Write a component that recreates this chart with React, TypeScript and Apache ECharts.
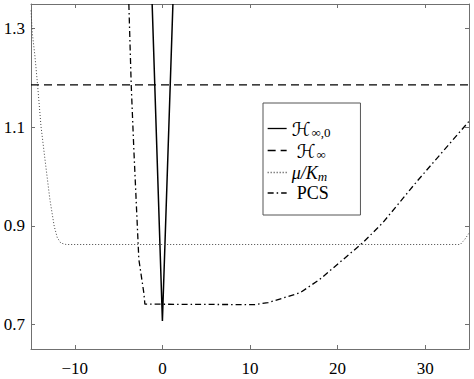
import React, { useEffect, useRef } from 'react';
import * as echarts from 'echarts';

// Axis ticks
const xTicks = [-10, 0, 10, 20, 30];
const yTicks = [0.7, 0.9, 1.1, 1.3];

// Series names
const seriesNames = ['ℋ∞,0', 'ℋ∞', 'μ/Km', 'PCS'];

// ℋ∞,0 (solid V)
const hInf0: number[][] = [[-1.17, 1.35], [0, 0.707], [1.2, 1.35]];
// ℋ∞ (dashed, constant)
const hInf: number[][] = [[-15, 1.186], [35, 1.186]];
// μ/Km (dotted)
const muKm: number[][] = [
  [-15, 1.337], [-14.85, 1.291], [-14.55, 1.244], [-14.25, 1.186], [-13.86, 1.102],
  [-13.4, 1.034], [-12.84, 0.953], [-12.35, 0.899], [-12.0, 0.876], [-11.6, 0.865],
  [-11.0, 0.862], [34.0, 0.862], [34.5, 0.872], [35, 0.885],
];
// PCS (dash-dot)
const pcs: number[][] = [
  [-3.83, 1.35], [-3.56, 1.186], [-3.26, 1.055], [-2.69, 0.832], [-2.12, 0.764],
  [-2.0, 0.741], [10.5, 0.74], [12.05, 0.744], [15.7, 0.764], [17.95, 0.791],
  [20.2, 0.825], [22.9, 0.866], [25.15, 0.906], [29.1, 0.991], [35, 1.112],
];

const AXIS_GRAY = '#707070';
const SERIF = '"Liberation Serif", "Times New Roman", serif';
const SCRIPT = '"DejaVu Serif", "DejaVu Sans", serif';

export default function App() {
  const ref = useRef<HTMLDivElement>(null);
  useEffect(() => {
    const chart = echarts.init(ref.current!, null, { renderer: 'svg' });
    const axisCommon = {
      axisLine: { show: true, onZero: false, lineStyle: { color: AXIS_GRAY, width: 1 } },
      splitLine: { show: false },
    };
    chart.setOption({
      animation: false,
      backgroundColor: '#fff',
      grid: { left: 31, right: 5, top: 4, bottom: 30 },
      xAxis: [
        {
          type: 'value', min: -15, max: 35, position: 'bottom',
          ...axisCommon,
          axisTick: { show: true, inside: true, length: 4, customValues: xTicks, lineStyle: { color: AXIS_GRAY } },
          axisLabel: {
            customValues: xTicks, margin: 11, color: '#000', fontSize: 17, fontFamily: SERIF,
            formatter: (v: number) => (v < 0 ? '\u2212' + Math.abs(v) : String(v)),
          },
        },
        {
          type: 'value', min: -15, max: 35, position: 'top',
          ...axisCommon,
          axisTick: { show: true, inside: true, length: 4, customValues: xTicks, lineStyle: { color: AXIS_GRAY } },
          axisLabel: { show: false },
        },
      ],
      yAxis: [
        {
          type: 'value', min: 0.65, max: 1.35, position: 'left',
          ...axisCommon,
          axisTick: { show: true, inside: true, length: 4, customValues: yTicks, lineStyle: { color: AXIS_GRAY } },
          axisLabel: {
            customValues: yTicks, margin: 6, color: '#000', fontSize: 17, fontFamily: SERIF,
            formatter: (v: number) => v.toFixed(1),
          },
        },
        {
          type: 'value', min: 0.65, max: 1.35, position: 'right',
          ...axisCommon,
          axisTick: { show: true, inside: true, length: 4, customValues: yTicks, lineStyle: { color: AXIS_GRAY } },
          axisLabel: { show: false },
        },
      ],
      legend: {
        orient: 'vertical',
        left: 263,
        top: 103,
        data: seriesNames,
        selectedMode: false,
        backgroundColor: '#fff',
        borderColor: '#555',
        borderWidth: 1,
        borderRadius: 0,
        padding: [15, 30, 13, 4],
        itemWidth: 19,
        itemHeight: 16,
        itemGap: 1,
        lineStyle: { width: 1.3 },
        itemStyle: { opacity: 0 },
        textStyle: {
          color: '#000',
          fontFamily: SERIF,
          fontSize: 18,
          lineHeight: 16,
          rich: {
            h: { fontSize: 19, lineHeight: 16, fontFamily: SCRIPT, fontStyle: 'italic', color: '#000' },
            h2: { fontSize: 19, lineHeight: 16, fontFamily: SCRIPT, fontStyle: 'italic', color: '#000', padding: [0, 0, 0, 5] },
            s: { fontSize: 13, lineHeight: 8, padding: [8, 0, 0, 1], fontFamily: SERIF, color: '#000' },
            si: { fontSize: 13, lineHeight: 8, padding: [8, 0, 0, 0], fontFamily: SERIF, fontStyle: 'italic', color: '#000' },
            m: { fontSize: 18, lineHeight: 16, fontFamily: SERIF, fontStyle: 'italic', color: '#000' },
            p: { fontSize: 18, lineHeight: 16, fontFamily: SERIF, color: '#000', padding: [0, 0, 0, 5] },
          },
        },
        formatter: (name: string) => {
          if (name === 'ℋ∞,0') return '{h|ℋ}{s|∞,0}';
          if (name === 'ℋ∞') return '{h2|ℋ}{s|∞}';
          if (name === 'μ/Km') return '{m|μ/K}{si|m}';
          return '{p|PCS}';
        },
      },
      series: [
        {
          name: seriesNames[0], type: 'line', data: hInf0, symbol: 'none', clip: true,
          lineStyle: { color: '#000', width: 1.5, type: 'solid' }, itemStyle: { color: '#000' },
        },
        {
          name: seriesNames[1], type: 'line', data: hInf, symbol: 'none', clip: true,
          lineStyle: { color: '#000', width: 1.3, type: [8, 5] }, itemStyle: { color: '#000' },
        },
        {
          name: seriesNames[2], type: 'line', data: muKm, symbol: 'none', clip: true,
          lineStyle: { color: '#444', width: 1, type: [1, 2] }, itemStyle: { color: '#444' },
        },
        {
          name: seriesNames[3], type: 'line', data: pcs, symbol: 'none', clip: true,
          lineStyle: { color: '#000', width: 1.3, type: [6, 3, 1.5, 3] }, itemStyle: { color: '#000' },
        },
      ],
    });
    return () => chart.dispose();
  }, []);
  return (
    <div
      ref={ref}
      style={{ position: 'absolute', left: 0, top: 0, width: 474, height: 379, background: '#fff' }}
    />
  );
}
